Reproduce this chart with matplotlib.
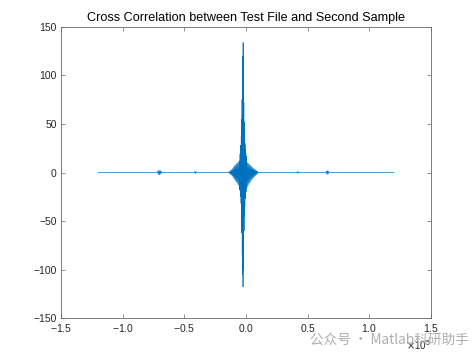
import matplotlib
matplotlib.use('Agg')
import matplotlib.pyplot as plt
import numpy as np
from matplotlib.ticker import ScalarFormatter

# Lag (samples) and correlation values.
# The trace is mostly flat, with a few small bursts and one big spike near lag -2400.
left_lags = [-120000, -90000, -72000, -71500, -71000, -70500, -70000, -69500,
             -69000, -68500, -68000, -42000, -41500, -41000, -40500, -40000,
             -25000, -14400]
left_vals = [0, 0, 0, 1.5, -2, 2.5, -2.5, 2, -1.5, 1, 0, 0, 1, -1.2, 1, 0,
             0, 0]

# burst around the main peak
blob_left_lags = [-14000, -13600, -13200, -12800, -12400, -12000, -11600, -11200,
                  -10800, -10400, -10000, -9600, -9200, -8800, -8400, -8000,
                  -7600, -7200, -6800, -6400, -6000, -5600, -5200]
blob_left_vals = [0.5, -0.8, 1.2, -1.5, 2, -2.5, 3, -3.5,
                  4, -5, 5.5, -6.5, 7, -8, 8, -9.5,
                  9, -11, 10, -12.5, 11, -14, 12]

spike_lags = [-4960, -4800, -4640, -4480, -4320, -4160, -4000, -3840,
              -3680, -3520, -3360, -3200, -3040, -2880, -2720, -2560,
              -2400, -2330, -2240, -2080, -1920, -1760, -1600, -1440,
              -1280, -1120, -960, -800, -640, -480, -320, -160,
              0, 160]
spike_vals = [-18, 19, -20, 22, -25, 28, -32, 38,
              -45, 55, -62, 75, -85, 100, -105, 120,
              -118, 134, -100, 95, -80, 72, -60, 52,
              -45, 40, -35, 30, -27, 24, -22, 20,
              -20, 17]

blob_right_lags = [200, 600, 1000, 1400, 1800,
                   2200, 2600, 3000, 3400, 3800, 4200, 4600, 5000,
                   5400, 5800, 6200, 6600, 7000, 7400, 7800, 8200,
                   8600, 9000, 9400, 9800, 10200]
blob_right_vals = [-17, 11, -15, 10, -13,
                   9, -11, 8, -10, 7, -8, 6, -7,
                   5, -5.5, 4, -4.5, 3.5, -3.5, 2.5, -2.5,
                   2, -1.5, 1, -0.6, 0.3]

right_lags = [10600, 25000, 41000, 41500, 42000, 42500, 43000, 64500, 65000,
              65500, 66000, 66500, 67000, 67500, 90000, 120000]
right_vals = [0, 0, 0, 0.8, -1, 0.8, 0, 0, 1.2, -1.8, 2, -1.8, 1.2, 0, 0, 0]

TITLE = 'Cross Correlation between Test File and Second Sample'
X_TICKS = [-150000, -100000, -50000, 0, 50000, 100000, 150000]
Y_TICKS = [-150, -100, -50, 0, 50, 100, 150]

lags = np.array(left_lags + blob_left_lags + spike_lags + blob_right_lags + right_lags)
vals = np.array(left_vals + blob_left_vals + spike_vals + blob_right_vals + right_vals)

fig = plt.figure(figsize=(4.74, 3.58), dpi=100)
ax = fig.add_axes([0.1287, 0.1117, 0.7806, 0.8129])

ax.plot(lags, vals, color='#0072BD', linewidth=0.5)

ax.set_xlim(-150000, 150000)
ax.set_ylim(-150, 150)
ax.set_xticks(X_TICKS)
ax.set_yticks(Y_TICKS)

fmt = ScalarFormatter(useMathText=True)
fmt.set_powerlimits((0, 0))
ax.xaxis.set_major_formatter(fmt)

ax.set_title(TITLE, fontsize=9.1, family='Liberation Sans', color='black', pad=4)

for s in ax.spines.values():
    s.set_color('#666666')
    s.set_linewidth(0.6)
ax.tick_params(direction='in', length=3, width=0.5, color='#666666',
               labelcolor='#262626', labelsize=7.5, top=True, right=True, pad=3)
for lbl in ax.get_xticklabels() + ax.get_yticklabels():
    lbl.set_family('Liberation Sans')
ax.xaxis.get_offset_text().set_fontsize(7)
ax.xaxis.get_offset_text().set_family('Liberation Sans')
ax.xaxis.get_offset_text().set_color('#262626')

# watermark
fig.text(0.654, 0.050, '公众号 · Matlab科研助手', fontsize=9.8,
         family=['Noto Sans CJK SC', 'DejaVu Sans'], color='#a0a0a0',
         alpha=0.85, va='center', ha='left')

fig.savefig('out.png', dpi=100)
